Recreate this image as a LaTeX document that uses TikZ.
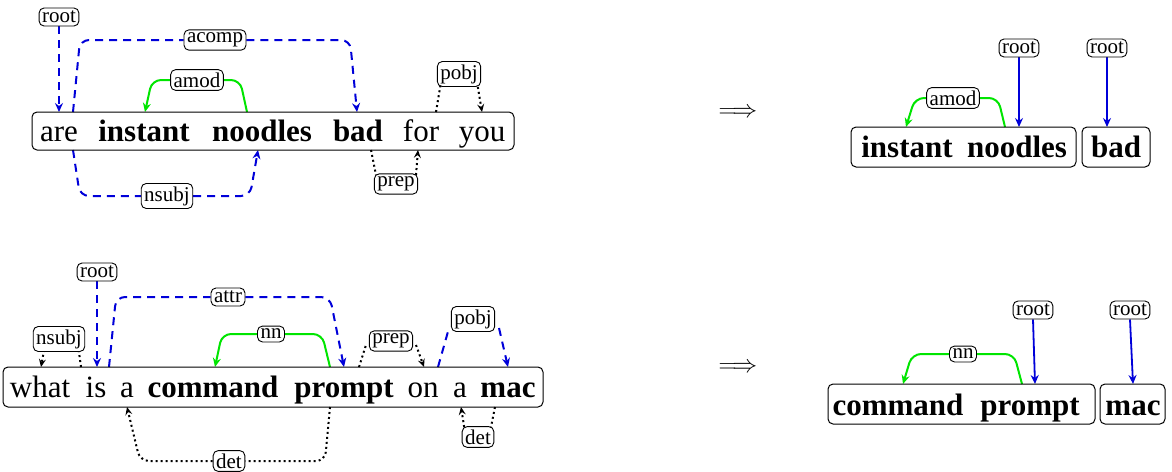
\documentclass[tikz,border=0pt]{standalone}
\usepackage{fontspec}
\setmainfont{Liberation Serif}
\usetikzlibrary{arrows.meta,fit}
\pgfdeclarelayer{bg}
\pgfsetlayers{bg,main}
\begin{document}
\begin{tikzpicture}[x=1pt,y=-1pt,
  word/.style={inner sep=0pt,font=\fontsize{31}{33}\selectfont,anchor=base},
  bword/.style={word,font=\fontsize{31}{33}\selectfont\bfseries},
  rword/.style={inner sep=0pt,font=\fontsize{31}{33}\selectfont\bfseries,anchor=base},
  sbox/.style={draw,rounded corners=5pt,line width=1pt,inner xsep=3pt},
  lab/.style={draw,fill=white,rounded corners=5pt,inner sep=3pt,line width=0.9pt,font=\fontsize{21}{23}\selectfont},
  bl/.style={draw=blue!85!black,line width=2pt,dash pattern=on 8pt off 6pt,rounded corners=9pt,-{Stealth[length=9pt,width=8pt,inset=3pt]}},
  bls/.style={draw=blue!85!black,line width=1.8pt,-{Stealth[length=9pt,width=8pt,inset=3pt]}},
  gr/.style={draw=green!90!black,line width=2pt,rounded corners=9pt,-{Stealth[length=9pt,width=8pt,inset=3pt]}},
  dt/.style={draw=black,line width=2pt,dash pattern=on 2pt off 3pt,rounded corners=9pt,-{Stealth[length=8pt,width=7pt,inset=3pt]}}]
\useasboundingbox (0,0) rectangle (1172,471);
% ---------- sentence 1
\node[word]  (a1) at (59,141) {are};
\node[bword] (a2) at (144,141) {instant};
\node[bword] (a3) at (262,141) {noodles};
\node[bword] (a4) at (358,141) {bad};
\node[word]  (a5) at (421,141) {for};
\node[word]  (a6) at (482,141) {you};
\node[sbox,fit={(32,112)(514,150)},inner sep=0pt] (s1) {};
\node[lab] (r1) at (59,17) {root};
\node[lab] (acomp) at (215,40) {acomp};
\node[lab] (amod) at (197,80) {amod};
\node[lab] (nsubj1) at (167,196) {nsubj};
\node[lab] (prep1) at (396,184) {prep};
\node[lab] (pobj1) at (459,74) {pobj};
\begin{pgfonlayer}{bg}
\draw[bl,rounded corners=0pt] (r1.south) -- (59,112);
\draw[bl] (73,112) -- (80,40) -- (acomp.west) (acomp.east) -- (350,40) -- (357,112);
\draw[gr] (247,112) -- (240,80) -- (amod.east) (amod.west) -- (152,80) -- (145,112);
\draw[bl] (73,150) -- (80,196) -- (nsubj1.west) (nsubj1.east) -- (250,196) -- (258,150);
\draw[dt] (371,150) -- (376,175) (416,175) -- (418,150);
\draw[dt] (436,112) -- (441,82) (477,82) -- (482,112);
\end{pgfonlayer}
% ---------- sentence 2
\node[word]  (b1) at (40,397) {what};
\node[word]  (b2) at (96,397) {is};
\node[word]  (b3) at (127,397) {a};
\node[bword] (b4) at (213,397) {command};
\node[bword] (b5) at (344,397) {prompt};
\node[word]  (b6) at (423,397) {on};
\node[word]  (b7) at (460,397) {a};
\node[bword] (b8) at (508,397) {mac};
\node[sbox,fit={(3,367)(543,407)},inner sep=0pt] (s2) {};
\node[lab] (r2) at (97,272) {root};
\node[lab] (attr) at (228,297) {attr};
\node[lab] (nsubj2) at (59,339) {nsubj};
\node[lab] (nn) at (271,334) {nn};
\node[lab] (prep2) at (391,341) {prep};
\node[lab] (pobj2) at (473,319) {pobj};
\node[lab] (det1) at (229,461) {det};
\node[lab] (det2) at (478,437) {det};
\begin{pgfonlayer}{bg}
\draw[bl,rounded corners=0pt] (r2.south) -- (97,367);
\draw[bl] (109,367) -- (116,297) -- (attr.west) (attr.east) -- (330,297) -- (344,367);
\draw[dt] (81,367) -- (78,345) (45,345) -- (41,367);
\draw[gr] (330,367) -- (322,334) -- (nn.east) (nn.west) -- (222,334) -- (215,367);
\draw[dt] (359,367) -- (366,345) (416,345) -- (424,367);
\draw[bl] (438,367) -- (449,328) (499,328) -- (508,367);
\draw[dt] (330,407) -- (325,461) -- (det1.east) (det1.west) -- (140,461) -- (127,407);
\draw[dt] (495,407) -- (490,432) (465,432) -- (461,407);
\end{pgfonlayer}
% ---------- arrows
\node[font=\fontsize{40}{42}\selectfont,inner sep=0pt] (imp1) at (738,113) {$\Longrightarrow$};
\node[font=\fontsize{40}{42}\selectfont,inner sep=0pt] (imp2) at (738,368) {$\Longrightarrow$};
% ---------- right top
\node[rword] (c1) at (907,157) {instant};
\node[rword] (c2) at (1017,157) {noodles};
\node[rword] (c3) at (1116,157) {bad};
\node[sbox,fit={(851,127)(1076,167)},inner sep=0pt] (t1) {};
\node[sbox,fit={(1082,127)(1150,167)},inner sep=0pt] (t2) {};
\node[lab] (rr1) at (1019,48) {root};
\node[lab] (rr2) at (1107,48) {root};
\node[lab] (amod2) at (953,98) {amod};
\begin{pgfonlayer}{bg}
\draw[bls] (rr1.south) -- (1019,127);
\draw[bls] (rr2.south) -- (1107,127);
\draw[gr] (1005,127) -- (998,98) -- (amod2.east) (amod2.west) -- (915,98) -- (906,127);
\end{pgfonlayer}
% ---------- right bottom
\node[rword] (d1) at (898,415) {command};
\node[rword] (d2) at (1030,415) {prompt};
\node[rword] (d3) at (1133,415) {mac};
\node[sbox,fit={(828,384)(1095,424)},inner sep=0pt] (t3) {};
\node[sbox,fit={(1100,384)(1165,424)},inner sep=0pt] (t4) {};
\node[lab] (rr3) at (1033,310) {root};
\node[lab] (rr4) at (1130,310) {root};
\node[lab] (nn2) at (963,354) {nn};
\begin{pgfonlayer}{bg}
\draw[bls] (rr3.south) -- (1035,384);
\draw[bls] (rr4.south) -- (1133,384);
\draw[gr] (1022,384) -- (1014,354) -- (nn2.east) (nn2.west) -- (912,354) -- (903,384);
\end{pgfonlayer}
\end{tikzpicture}
\end{document}
